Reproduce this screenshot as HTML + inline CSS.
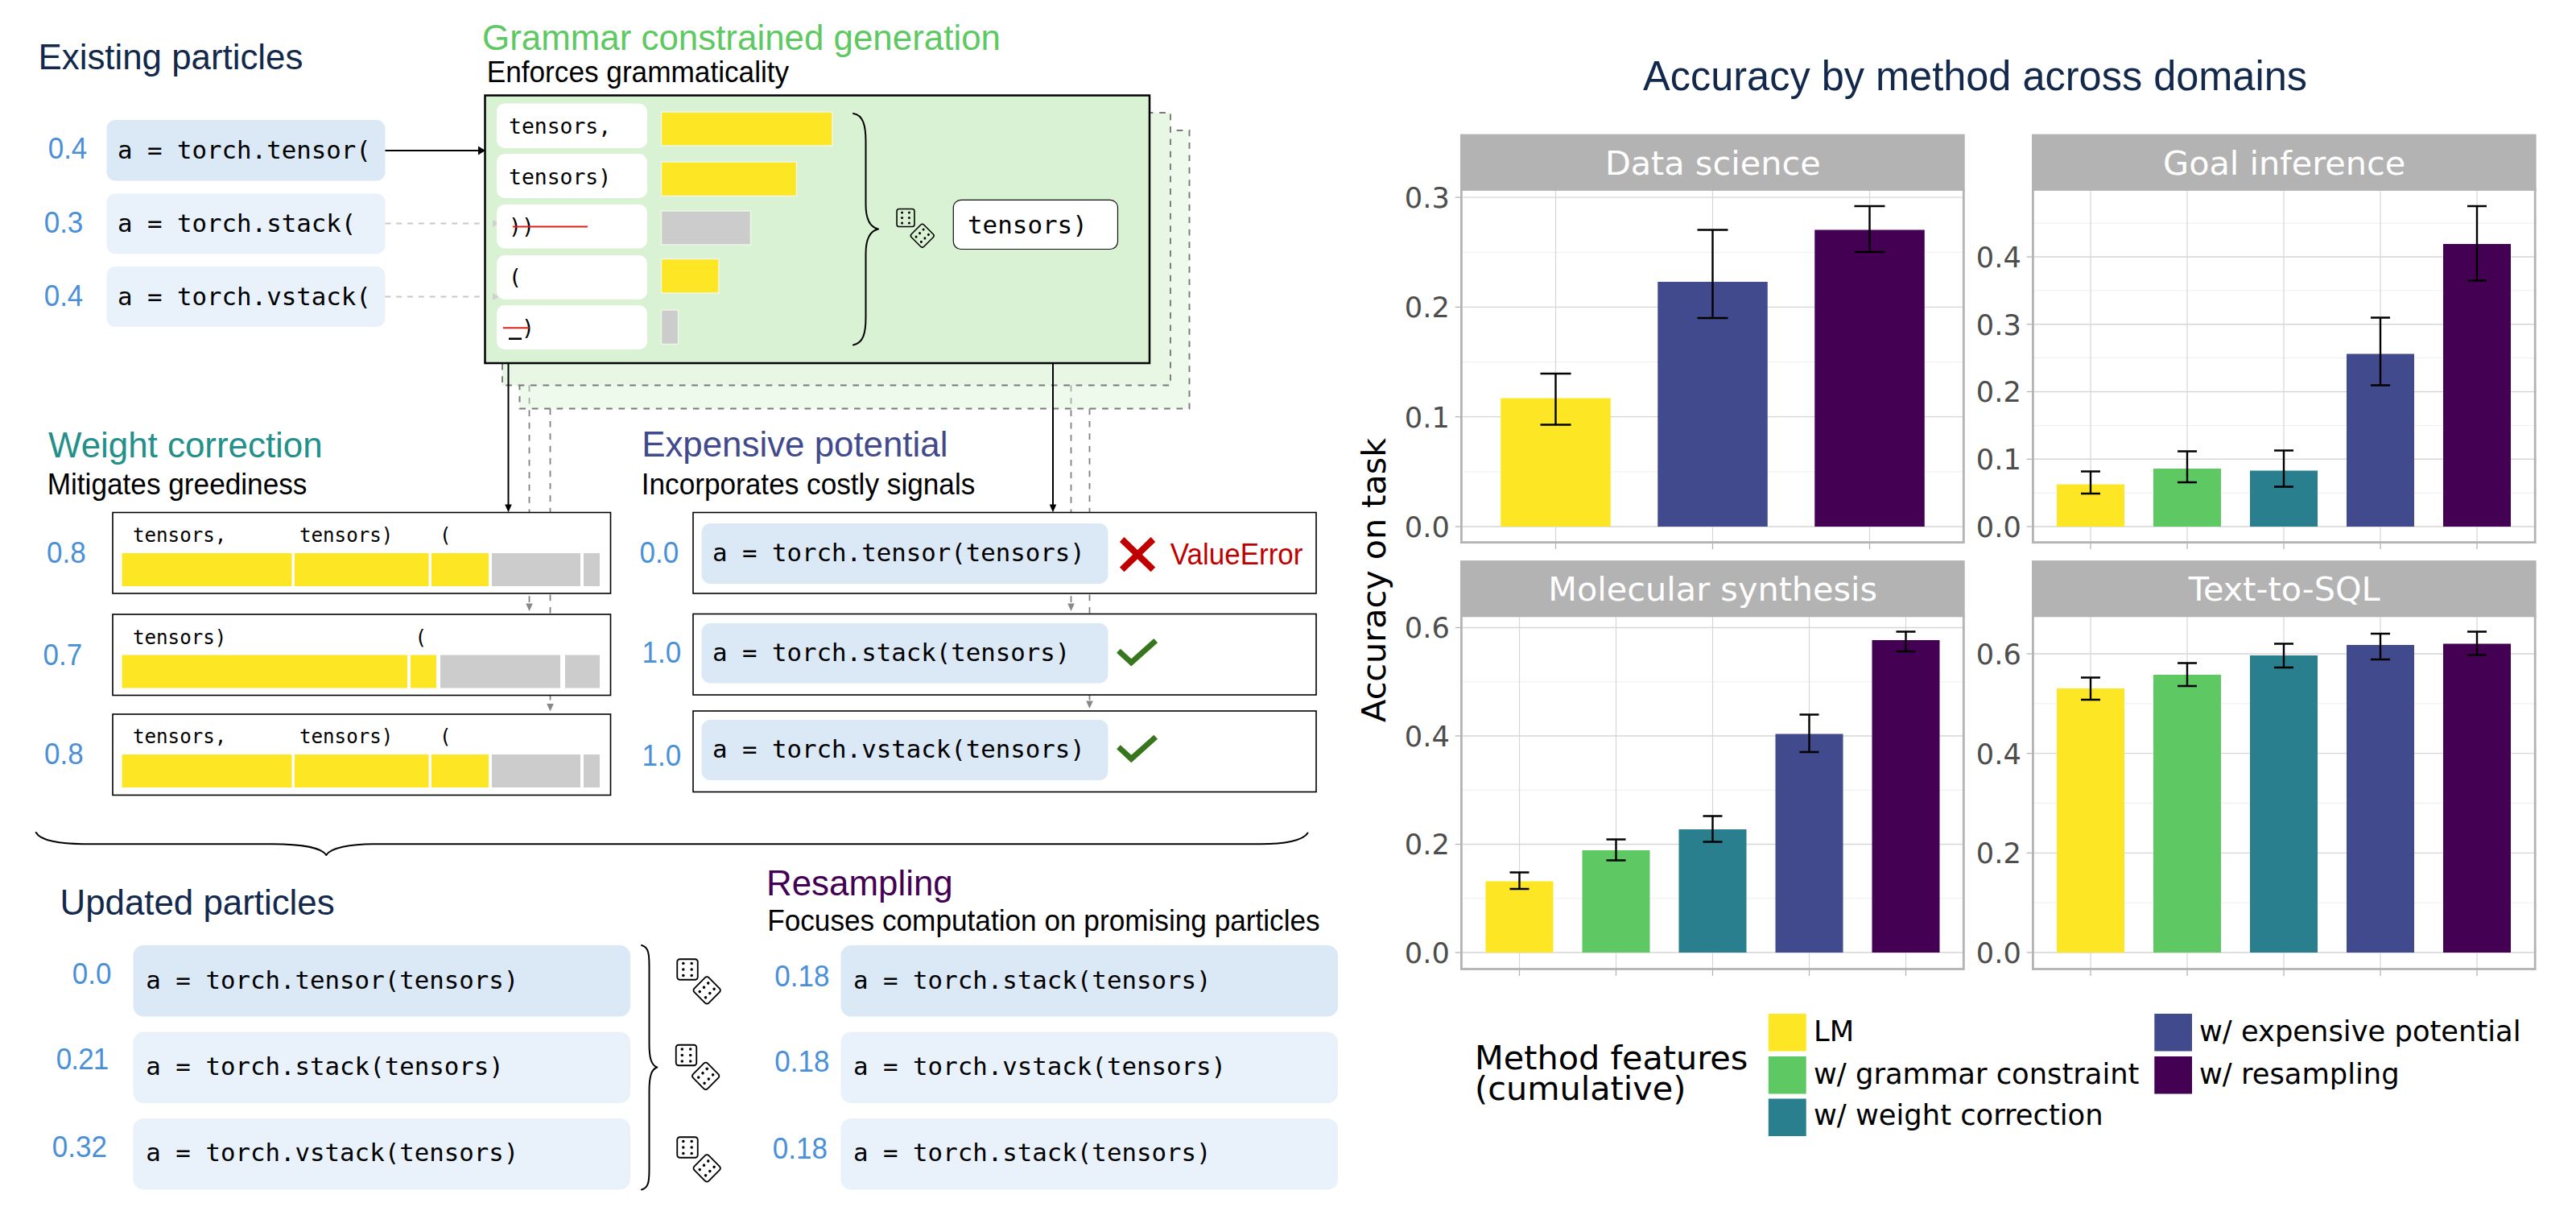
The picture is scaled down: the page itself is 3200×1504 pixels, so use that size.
<!DOCTYPE html>
<html lang="en"><head><meta charset="utf-8"><title>Sequential Monte Carlo for constrained generation</title>
<style>html,body{margin:0;padding:0;background:#fff;}body{width:3200px;height:1504px;overflow:hidden;}svg{display:block;}</style></head><body>
<svg width="3200" height="1504" viewBox="0 0 3200 1504">
<rect width="3200" height="1504" fill="#fff"/>
<defs><g id="die"><rect x="-12.5" y="-12.5" width="25" height="25" rx="3.2" fill="none" stroke="#000" stroke-width="1.8"/><circle cx="-5.1" cy="-7.3" r="1.72" fill="#000"/><circle cx="-5.1" cy="0" r="1.72" fill="#000"/><circle cx="-5.1" cy="7.3" r="1.72" fill="#000"/><circle cx="5.1" cy="-7.3" r="1.72" fill="#000"/><circle cx="5.1" cy="0" r="1.72" fill="#000"/><circle cx="5.1" cy="7.3" r="1.72" fill="#000"/></g><g id="dice"><use href="#die"/><use href="#die" transform="translate(23.7,25.4) rotate(45)"/></g></defs>
<text transform="translate(47.5,86.0) scale(1,1.03)" font-size="43.85" fill="#13294b" font-family="Liberation Sans, Arial, Helvetica, sans-serif" xml:space="preserve">Existing particles</text>
<rect x="132.5" y="149" width="346.0" height="75.5" fill="#dbe8f6" rx="11"/>
<text transform="translate(59.7,197.0) scale(1,1.04)" font-size="35" fill="#4a90d9" font-family="Liberation Sans, Arial, Helvetica, sans-serif" xml:space="preserve">0.4</text>
<text x="146" y="197.15" font-size="30.75" fill="#000" font-family="DejaVu Sans Mono, Liberation Mono, monospace" xml:space="preserve">a = torch.tensor(</text>
<rect x="132.5" y="240.5" width="346.0" height="75.0" fill="#e9f2fb" rx="11"/>
<text transform="translate(54.7,289.0) scale(1,1.04)" font-size="35" fill="#4a90d9" font-family="Liberation Sans, Arial, Helvetica, sans-serif" xml:space="preserve">0.3</text>
<text x="146" y="288.4" font-size="30.75" fill="#000" font-family="DejaVu Sans Mono, Liberation Mono, monospace" xml:space="preserve">a = torch.stack(</text>
<rect x="132.5" y="331" width="346.0" height="75" fill="#e9f2fb" rx="11"/>
<text transform="translate(54.7,380.0) scale(1,1.04)" font-size="35" fill="#4a90d9" font-family="Liberation Sans, Arial, Helvetica, sans-serif" xml:space="preserve">0.4</text>
<text x="146" y="378.9" font-size="30.75" fill="#000" font-family="DejaVu Sans Mono, Liberation Mono, monospace" xml:space="preserve">a = torch.vstack(</text>
<line x1="478.5" y1="187" x2="596" y2="187" stroke="#000" stroke-width="2"/>
<path d="M594,181.5 L603,187 L594,192.5 Z" stroke="none" stroke-width="0" fill="#000"/>
<text transform="translate(599,62.3) scale(1,1.03)" font-size="43.9" fill="#5ec962" font-family="Liberation Sans, Arial, Helvetica, sans-serif" xml:space="preserve">Grammar constrained generation</text>
<text transform="translate(604.7,101.8) scale(1,1.03)" font-size="35.2" fill="#000" font-family="Liberation Sans, Arial, Helvetica, sans-serif" xml:space="preserve">Enforces grammaticality</text>
<rect x="645.5" y="162" width="832.0" height="345.5" fill="#eefaec" stroke="#7a7a7a" stroke-width="1.9" stroke-dasharray="7.7 7.7"/>
<rect x="624" y="140" width="830" height="338.5" fill="#e7f7e4" stroke="#7a7a7a" stroke-width="1.9" stroke-dasharray="7.7 7.7"/>
<line x1="478.5" y1="277.5" x2="614" y2="277.5" stroke="#c8c8c8" stroke-width="1.8" stroke-dasharray="6.9 6.9"/>
<line x1="478.5" y1="368.5" x2="614" y2="368.5" stroke="#c8c8c8" stroke-width="1.8" stroke-dasharray="6.9 6.9"/>
<rect x="602.5" y="118.5" width="825.5" height="332.5" fill="#d9f2d3" stroke="#000" stroke-width="2.5"/>
<path d="M612,273 L620,277.5 L612,282 Z" stroke="none" stroke-width="0" fill="#d0d0d0"/>
<path d="M612,364 L620,368.5 L612,373 Z" stroke="none" stroke-width="0" fill="#d0d0d0"/>
<rect x="617" y="128.5" width="187" height="55.5" fill="#fff" rx="10"/>
<text x="632.0" y="165.9" font-size="26.4" fill="#000" font-family="DejaVu Sans Mono, Liberation Mono, monospace" xml:space="preserve">tensors,</text>
<rect x="617" y="191" width="187" height="55" fill="#fff" rx="10"/>
<text x="632.0" y="228.9" font-size="26.4" fill="#000" font-family="DejaVu Sans Mono, Liberation Mono, monospace" xml:space="preserve">tensors)</text>
<rect x="617" y="254" width="187" height="54.5" fill="#fff" rx="10"/>
<text x="632.0" y="290.4" font-size="26.4" fill="#000" font-family="DejaVu Sans Mono, Liberation Mono, monospace" xml:space="preserve">))</text>
<rect x="617" y="317" width="187" height="55" fill="#fff" rx="10"/>
<text x="632.0" y="353.4" font-size="26.4" fill="#000" font-family="DejaVu Sans Mono, Liberation Mono, monospace" xml:space="preserve">(</text>
<rect x="617" y="379" width="187" height="55" fill="#fff" rx="10"/>
<text x="632.0" y="415.9" font-size="26.4" fill="#000" font-family="DejaVu Sans Mono, Liberation Mono, monospace" xml:space="preserve">_)</text>
<line x1="637" y1="281.5" x2="730" y2="281.5" stroke="#e0201a" stroke-width="2"/>
<line x1="625" y1="407.3" x2="657.5" y2="407.3" stroke="#e0201a" stroke-width="2"/>
<line x1="632" y1="420.6" x2="648" y2="420.6" stroke="#000" stroke-width="2.3"/>
<rect x="821.5" y="139" width="212.5" height="42" fill="#fde725" stroke="#eef7e6" stroke-width="1.5"/>
<rect x="821.5" y="201" width="168.0" height="42.5" fill="#fde725" stroke="#eef7e6" stroke-width="1.5"/>
<rect x="821.5" y="262" width="111.0" height="42" fill="#cccccc" stroke="#eef7e6" stroke-width="1.5"/>
<rect x="821.5" y="321.5" width="71.5" height="42.5" fill="#fde725" stroke="#eef7e6" stroke-width="1.5"/>
<rect x="821.5" y="385" width="21.0" height="42.5" fill="#cccccc" stroke="#eef7e6" stroke-width="1.5"/>
<path d="M1060,141 C1072,143 1075.5,155 1075.5,176 L1075.5,254 C1075.5,272 1080,282 1091,284.5 C1080,287 1075.5,297 1075.5,315 L1075.5,394 C1075.5,415 1072,426 1060,428.5" stroke="#000" stroke-width="2" fill="none" stroke-linejoin="round" stroke-linecap="round"/>
<use href="#dice" transform="translate(1125,270.5) scale(0.875)"/>
<rect x="1184.3" y="248.3" width="204.2" height="61.2" fill="#fff" stroke="#111" stroke-width="1.2" rx="9.5"/>
<text x="1202" y="289.7" font-size="30.9" fill="#000" font-family="DejaVu Sans Mono, Liberation Mono, monospace" xml:space="preserve">tensors)</text>
<line x1="631.5" y1="451.5" x2="631.5" y2="630" stroke="#000" stroke-width="2"/>
<path d="M627.2,626.5 L631.5,636.3 L635.8,626.5 Z" stroke="none" stroke-width="0" fill="#000"/>
<line x1="1308" y1="451.5" x2="1308" y2="630" stroke="#000" stroke-width="2"/>
<path d="M1303.7,626.5 L1308,636.3 L1312.3,626.5 Z" stroke="none" stroke-width="0" fill="#000"/>
<line x1="657.5" y1="478.5" x2="657.5" y2="507.5" stroke="#aaa" stroke-width="1.8" stroke-dasharray="7.7 7.7"/>
<line x1="657.5" y1="507.5" x2="657.5" y2="752" stroke="#808080" stroke-width="1.8" stroke-dasharray="7.7 7.7" stroke-dashoffset="13.6"/>
<line x1="683.5" y1="507.5" x2="683.5" y2="876" stroke="#808080" stroke-width="1.8" stroke-dasharray="7.7 7.7"/>
<line x1="1330.5" y1="478.5" x2="1330.5" y2="507.5" stroke="#aaa" stroke-width="1.8" stroke-dasharray="7.7 7.7"/>
<line x1="1330.5" y1="507.5" x2="1330.5" y2="752" stroke="#808080" stroke-width="1.8" stroke-dasharray="7.7 7.7" stroke-dashoffset="13.6"/>
<line x1="1353.5" y1="507.5" x2="1353.5" y2="873" stroke="#808080" stroke-width="1.8" stroke-dasharray="7.7 7.7"/>
<text transform="translate(60,567.8) scale(1,1.03)" font-size="43.9" fill="#23908a" font-family="Liberation Sans, Arial, Helvetica, sans-serif" xml:space="preserve">Weight correction</text>
<text transform="translate(58.7,614.3) scale(1,1.03)" font-size="35.2" fill="#000" font-family="Liberation Sans, Arial, Helvetica, sans-serif" xml:space="preserve">Mitigates greediness</text>
<rect x="140" y="636.5" width="618.5" height="100.5" fill="#fff" stroke="#000" stroke-width="1.6"/>
<text transform="translate(58,698.5) scale(1,1.04)" font-size="35" fill="#4a90d9" font-family="Liberation Sans, Arial, Helvetica, sans-serif" xml:space="preserve">0.8</text>
<text x="164.9" y="673.2" font-size="24.2" fill="#000" font-family="DejaVu Sans Mono, Liberation Mono, monospace" xml:space="preserve">tensors,</text>
<text x="371.9" y="673.2" font-size="24.2" fill="#000" font-family="DejaVu Sans Mono, Liberation Mono, monospace" xml:space="preserve">tensors)</text>
<text x="545.9" y="673.2" font-size="24.2" fill="#000" font-family="DejaVu Sans Mono, Liberation Mono, monospace" xml:space="preserve">(</text>
<rect x="151.5" y="687" width="211.0" height="41" fill="#fde725"/>
<rect x="366" y="687" width="166.5" height="41" fill="#fde725"/>
<rect x="536" y="687" width="71" height="41" fill="#fde725"/>
<rect x="611" y="687" width="110" height="41" fill="#cccccc"/>
<rect x="725" y="687" width="20" height="41" fill="#cccccc"/>
<rect x="140" y="763" width="618.5" height="100.5" fill="#fff" stroke="#000" stroke-width="1.6"/>
<text transform="translate(53.5,825.5) scale(1,1.04)" font-size="35" fill="#4a90d9" font-family="Liberation Sans, Arial, Helvetica, sans-serif" xml:space="preserve">0.7</text>
<text x="164.9" y="799.7" font-size="24.2" fill="#000" font-family="DejaVu Sans Mono, Liberation Mono, monospace" xml:space="preserve">tensors)</text>
<text x="515.4" y="799.7" font-size="24.2" fill="#000" font-family="DejaVu Sans Mono, Liberation Mono, monospace" xml:space="preserve">(</text>
<rect x="151.5" y="813.5" width="354.5" height="41.0" fill="#fde725"/>
<rect x="510" y="813.5" width="32" height="41.0" fill="#fde725"/>
<rect x="547" y="813.5" width="149" height="41.0" fill="#cccccc"/>
<rect x="702" y="813.5" width="43" height="41.0" fill="#cccccc"/>
<rect x="140" y="887" width="618.5" height="100.5" fill="#fff" stroke="#000" stroke-width="1.6"/>
<text transform="translate(55,948.5) scale(1,1.04)" font-size="35" fill="#4a90d9" font-family="Liberation Sans, Arial, Helvetica, sans-serif" xml:space="preserve">0.8</text>
<text x="164.9" y="923.2" font-size="24.2" fill="#000" font-family="DejaVu Sans Mono, Liberation Mono, monospace" xml:space="preserve">tensors,</text>
<text x="371.9" y="923.2" font-size="24.2" fill="#000" font-family="DejaVu Sans Mono, Liberation Mono, monospace" xml:space="preserve">tensors)</text>
<text x="545.9" y="923.2" font-size="24.2" fill="#000" font-family="DejaVu Sans Mono, Liberation Mono, monospace" xml:space="preserve">(</text>
<rect x="151.5" y="937" width="211.0" height="41" fill="#fde725"/>
<rect x="366" y="937" width="166.5" height="41" fill="#fde725"/>
<rect x="536" y="937" width="71" height="41" fill="#fde725"/>
<rect x="611" y="937" width="110" height="41" fill="#cccccc"/>
<rect x="725" y="937" width="20" height="41" fill="#cccccc"/>
<path d="M653.2,749.5 L657.5,759 L661.8,749.5 Z" stroke="none" stroke-width="0" fill="#888"/>
<path d="M679.2,874 L683.5,883.5 L687.8,874 Z" stroke="none" stroke-width="0" fill="#888"/>
<text transform="translate(797.2,567.3) scale(1,1.03)" font-size="43.85" fill="#414a8c" font-family="Liberation Sans, Arial, Helvetica, sans-serif" xml:space="preserve">Expensive potential</text>
<text transform="translate(796.7,614.3) scale(1,1.03)" font-size="35.2" fill="#000" font-family="Liberation Sans, Arial, Helvetica, sans-serif" xml:space="preserve">Incorporates costly signals</text>
<rect x="861" y="636.5" width="774" height="100.5" fill="#fff" stroke="#000" stroke-width="1.6"/>
<rect x="871.5" y="650" width="505.0" height="75" fill="#dbe8f6" rx="11"/>
<text transform="translate(794.5,698.8) scale(1,1.04)" font-size="35" fill="#4a90d9" font-family="Liberation Sans, Arial, Helvetica, sans-serif" xml:space="preserve">0.0</text>
<text x="885" y="696.5" font-size="30.75" fill="#000" font-family="DejaVu Sans Mono, Liberation Mono, monospace" xml:space="preserve">a = torch.tensor(tensors)</text>
<rect x="861" y="762.5" width="774" height="100.5" fill="#fff" stroke="#000" stroke-width="1.6"/>
<rect x="871.5" y="774" width="505.0" height="74.5" fill="#dbe8f6" rx="11"/>
<text transform="translate(797.5,823.3) scale(1,1.04)" font-size="35" fill="#4a90d9" font-family="Liberation Sans, Arial, Helvetica, sans-serif" xml:space="preserve">1.0</text>
<text x="885" y="820.5" font-size="30.75" fill="#000" font-family="DejaVu Sans Mono, Liberation Mono, monospace" xml:space="preserve">a = torch.stack(tensors)</text>
<rect x="861" y="883" width="774" height="100.5" fill="#fff" stroke="#000" stroke-width="1.6"/>
<rect x="871.5" y="894" width="505.0" height="75" fill="#dbe8f6" rx="11"/>
<text transform="translate(797.5,950.8) scale(1,1.04)" font-size="35" fill="#4a90d9" font-family="Liberation Sans, Arial, Helvetica, sans-serif" xml:space="preserve">1.0</text>
<text x="885" y="940.5" font-size="30.75" fill="#000" font-family="DejaVu Sans Mono, Liberation Mono, monospace" xml:space="preserve">a = torch.vstack(tensors)</text>
<path d="M1326.2,749.5 L1330.5,759 L1334.8,749.5 Z" stroke="none" stroke-width="0" fill="#888"/>
<path d="M1349.2,870.5 L1353.5,880 L1357.8,870.5 Z" stroke="none" stroke-width="0" fill="#888"/>
<path d="M1393.7,670 L1432.4,707.4 M1432.4,670 L1393.7,707.4" stroke="#c00000" stroke-width="8" fill="none" stroke-linejoin="miter"/>
<text transform="translate(1453.8,700.6) scale(1,1.03)" font-size="35" fill="#c00000" font-family="Liberation Sans, Arial, Helvetica, sans-serif" xml:space="preserve">ValueError</text>
<path d="M1389.5,808.2 L1405.3,822.8 L1435.7,795.65" stroke="#38761d" stroke-width="7" fill="none" stroke-linejoin="miter"/>
<path d="M1389.5,927.8000000000001 L1405.3,942.4 L1435.7,915.25" stroke="#38761d" stroke-width="7" fill="none" stroke-linejoin="miter"/>
<path d="M44.8,1034 C50,1044 75,1048.2 103,1048.2 L338,1048.2 C375,1048.2 400,1053 405.3,1062 C410,1053 436,1048.2 463,1048.2 L1566,1048.2 C1595,1048.2 1619,1044 1624.5,1034.5" stroke="#000" stroke-width="2" fill="none" stroke-linejoin="round" stroke-linecap="round"/>
<text transform="translate(74.5,1135.8) scale(1,1.03)" font-size="43.85" fill="#13294b" font-family="Liberation Sans, Arial, Helvetica, sans-serif" xml:space="preserve">Updated particles</text>
<rect x="165.5" y="1174" width="617.5" height="88.5" fill="#dbe8f6" rx="13"/>
<text transform="translate(89.8,1222.0) scale(1,1.04)" font-size="35" fill="#4a90d9" font-family="Liberation Sans, Arial, Helvetica, sans-serif" xml:space="preserve">0.0</text>
<text x="181.3" y="1228" font-size="30.78" fill="#000" font-family="DejaVu Sans Mono, Liberation Mono, monospace" xml:space="preserve">a = torch.tensor(tensors)</text>
<rect x="165.5" y="1281.5" width="617.5" height="88.5" fill="#e9f2fb" rx="13"/>
<text transform="translate(69.8,1328.0) scale(1,1.04)" font-size="35" fill="#4a90d9" font-family="Liberation Sans, Arial, Helvetica, sans-serif" xml:space="preserve" letter-spacing="-0.9">0.21</text>
<text x="181.3" y="1335" font-size="30.78" fill="#000" font-family="DejaVu Sans Mono, Liberation Mono, monospace" xml:space="preserve">a = torch.stack(tensors)</text>
<rect x="165.5" y="1389" width="617.5" height="88.5" fill="#e9f2fb" rx="13"/>
<text transform="translate(64.8,1437.0) scale(1,1.04)" font-size="35" fill="#4a90d9" font-family="Liberation Sans, Arial, Helvetica, sans-serif" xml:space="preserve">0.32</text>
<text x="181.3" y="1442" font-size="30.78" fill="#000" font-family="DejaVu Sans Mono, Liberation Mono, monospace" xml:space="preserve">a = torch.vstack(tensors)</text>
<path d="M797,1174 C806,1176 806.5,1186 806.5,1200 L806.5,1296 C806.5,1314 809,1323 816.3,1325.5 C809,1328 806.5,1337 806.5,1355 L806.5,1452 C806.5,1466 806,1475.5 797,1477.5" stroke="#000" stroke-width="2" fill="none" stroke-linejoin="round" stroke-linecap="round"/>
<use href="#dice" transform="translate(854.0,1204.0) scale(1.02)"/>
<use href="#dice" transform="translate(852.5,1310.5) scale(1.02)"/>
<use href="#dice" transform="translate(854.0,1425.0) scale(1.02)"/>
<text transform="translate(952,1111.8) scale(1,1.03)" font-size="43.9" fill="#440154" font-family="Liberation Sans, Arial, Helvetica, sans-serif" xml:space="preserve">Resampling</text>
<text transform="translate(953.2,1155.8) scale(1,1.03)" font-size="35.2" fill="#000" font-family="Liberation Sans, Arial, Helvetica, sans-serif" xml:space="preserve">Focuses computation on promising particles</text>
<rect x="1044.5" y="1174" width="617.5" height="88.5" fill="#dbe8f6" rx="13"/>
<text transform="translate(962.3,1224.5) scale(1,1.04)" font-size="35" fill="#4a90d9" font-family="Liberation Sans, Arial, Helvetica, sans-serif" xml:space="preserve">0.18</text>
<text x="1060" y="1228" font-size="30.78" fill="#000" font-family="DejaVu Sans Mono, Liberation Mono, monospace" xml:space="preserve">a = torch.stack(tensors)</text>
<rect x="1044.5" y="1281.5" width="617.5" height="88.5" fill="#e9f2fb" rx="13"/>
<text transform="translate(962.3,1330.5) scale(1,1.04)" font-size="35" fill="#4a90d9" font-family="Liberation Sans, Arial, Helvetica, sans-serif" xml:space="preserve">0.18</text>
<text x="1060" y="1335" font-size="30.78" fill="#000" font-family="DejaVu Sans Mono, Liberation Mono, monospace" xml:space="preserve">a = torch.vstack(tensors)</text>
<rect x="1044.5" y="1389" width="617.5" height="88.5" fill="#e9f2fb" rx="13"/>
<text transform="translate(959.8,1438.5) scale(1,1.04)" font-size="35" fill="#4a90d9" font-family="Liberation Sans, Arial, Helvetica, sans-serif" xml:space="preserve">0.18</text>
<text x="1060" y="1442" font-size="30.78" fill="#000" font-family="DejaVu Sans Mono, Liberation Mono, monospace" xml:space="preserve">a = torch.stack(tensors)</text>
<text transform="translate(2453.5,111.5) scale(1,1.03)" font-size="50.5" fill="#13294b" font-family="Liberation Sans, Arial, Helvetica, sans-serif" text-anchor="middle" xml:space="preserve">Accuracy by method across domains</text>
<text transform="translate(1720.8,720.3) rotate(-90)" font-size="41.3" fill="#000" font-family="DejaVu Sans, Liberation Sans, sans-serif" text-anchor="middle">Accuracy on task</text>
<rect x="1814" y="236.7" width="626.7" height="438.3" fill="#fff"/>
<line x1="1814" y1="585.85" x2="2440.7" y2="585.85" stroke="#ececec" stroke-width="0.9"/>
<line x1="1814" y1="449.55" x2="2440.7" y2="449.55" stroke="#ececec" stroke-width="0.9"/>
<line x1="1814" y1="313.25" x2="2440.7" y2="313.25" stroke="#ececec" stroke-width="0.9"/>
<line x1="1814" y1="654" x2="2440.7" y2="654" stroke="#d6d6d6" stroke-width="1.3"/>
<line x1="1807.7" y1="654" x2="1814" y2="654" stroke="#b0b0b0" stroke-width="1.2"/>
<text x="1800.8" y="666.9" font-size="35.2" fill="#4d4d4d" font-family="DejaVu Sans, Liberation Sans, sans-serif" text-anchor="end" xml:space="preserve">0.0</text>
<line x1="1814" y1="517.7" x2="2440.7" y2="517.7" stroke="#d6d6d6" stroke-width="1.3"/>
<line x1="1807.7" y1="517.7" x2="1814" y2="517.7" stroke="#b0b0b0" stroke-width="1.2"/>
<text x="1800.8" y="530.6" font-size="35.2" fill="#4d4d4d" font-family="DejaVu Sans, Liberation Sans, sans-serif" text-anchor="end" xml:space="preserve">0.1</text>
<line x1="1814" y1="381.4" x2="2440.7" y2="381.4" stroke="#d6d6d6" stroke-width="1.3"/>
<line x1="1807.7" y1="381.4" x2="1814" y2="381.4" stroke="#b0b0b0" stroke-width="1.2"/>
<text x="1800.8" y="394.29999999999995" font-size="35.2" fill="#4d4d4d" font-family="DejaVu Sans, Liberation Sans, sans-serif" text-anchor="end" xml:space="preserve">0.2</text>
<line x1="1814" y1="245.10000000000002" x2="2440.7" y2="245.10000000000002" stroke="#d6d6d6" stroke-width="1.3"/>
<line x1="1807.7" y1="245.10000000000002" x2="1814" y2="245.10000000000002" stroke="#b0b0b0" stroke-width="1.2"/>
<text x="1800.8" y="258.0" font-size="35.2" fill="#4d4d4d" font-family="DejaVu Sans, Liberation Sans, sans-serif" text-anchor="end" xml:space="preserve">0.3</text>
<line x1="1932.5" y1="236.7" x2="1932.5" y2="675" stroke="#d6d6d6" stroke-width="1.2"/>
<line x1="1932.5" y1="675" x2="1932.5" y2="682" stroke="#b0b0b0" stroke-width="1.2"/>
<line x1="2127.5" y1="236.7" x2="2127.5" y2="675" stroke="#d6d6d6" stroke-width="1.2"/>
<line x1="2127.5" y1="675" x2="2127.5" y2="682" stroke="#b0b0b0" stroke-width="1.2"/>
<line x1="2322.5" y1="236.7" x2="2322.5" y2="675" stroke="#d6d6d6" stroke-width="1.2"/>
<line x1="2322.5" y1="675" x2="2322.5" y2="682" stroke="#b0b0b0" stroke-width="1.2"/>
<rect x="1864.25" y="494.5" width="136.5" height="159.5" fill="#fde725"/>
<rect x="2059.25" y="350" width="136.5" height="304" fill="#414a8c"/>
<rect x="2254.25" y="285.5" width="136.5" height="368.5" fill="#440154"/>
<path d="M1913.5,464 H1951.5 M1913.5,527.5 H1951.5 M1932.5,464 V527.5" stroke="#000" stroke-width="2.4" fill="none"/>
<path d="M2108.5,285.5 H2146.5 M2108.5,395 H2146.5 M2127.5,285.5 V395" stroke="#000" stroke-width="2.4" fill="none"/>
<path d="M2303.5,256 H2341.5 M2303.5,313 H2341.5 M2322.5,256 V313" stroke="#000" stroke-width="2.4" fill="none"/>
<rect x="1815.4" y="235.29999999999998" width="623.9" height="438.3" fill="none" stroke="#b3b3b3" stroke-width="2.8"/>
<rect x="1814" y="166.6" width="626.7" height="70.1" fill="#b3b3b3"/>
<text x="2127.75" y="216.79999999999998" font-size="41.4" fill="#fff" font-family="DejaVu Sans, Liberation Sans, sans-serif" text-anchor="middle" xml:space="preserve">Data science</text>
<rect x="2524" y="236.7" width="626.6" height="438.3" fill="#fff"/>
<line x1="2524" y1="612.125" x2="3150.6" y2="612.125" stroke="#ececec" stroke-width="0.9"/>
<line x1="2524" y1="528.375" x2="3150.6" y2="528.375" stroke="#ececec" stroke-width="0.9"/>
<line x1="2524" y1="444.625" x2="3150.6" y2="444.625" stroke="#ececec" stroke-width="0.9"/>
<line x1="2524" y1="360.875" x2="3150.6" y2="360.875" stroke="#ececec" stroke-width="0.9"/>
<line x1="2524" y1="277.125" x2="3150.6" y2="277.125" stroke="#ececec" stroke-width="0.9"/>
<line x1="2524" y1="654.0" x2="3150.6" y2="654.0" stroke="#d6d6d6" stroke-width="1.3"/>
<line x1="2517.7" y1="654.0" x2="2524" y2="654.0" stroke="#b0b0b0" stroke-width="1.2"/>
<text x="2510.8" y="666.9" font-size="35.2" fill="#4d4d4d" font-family="DejaVu Sans, Liberation Sans, sans-serif" text-anchor="end" xml:space="preserve">0.0</text>
<line x1="2524" y1="570.25" x2="3150.6" y2="570.25" stroke="#d6d6d6" stroke-width="1.3"/>
<line x1="2517.7" y1="570.25" x2="2524" y2="570.25" stroke="#b0b0b0" stroke-width="1.2"/>
<text x="2510.8" y="583.15" font-size="35.2" fill="#4d4d4d" font-family="DejaVu Sans, Liberation Sans, sans-serif" text-anchor="end" xml:space="preserve">0.1</text>
<line x1="2524" y1="486.5" x2="3150.6" y2="486.5" stroke="#d6d6d6" stroke-width="1.3"/>
<line x1="2517.7" y1="486.5" x2="2524" y2="486.5" stroke="#b0b0b0" stroke-width="1.2"/>
<text x="2510.8" y="499.4" font-size="35.2" fill="#4d4d4d" font-family="DejaVu Sans, Liberation Sans, sans-serif" text-anchor="end" xml:space="preserve">0.2</text>
<line x1="2524" y1="402.75" x2="3150.6" y2="402.75" stroke="#d6d6d6" stroke-width="1.3"/>
<line x1="2517.7" y1="402.75" x2="2524" y2="402.75" stroke="#b0b0b0" stroke-width="1.2"/>
<text x="2510.8" y="415.65" font-size="35.2" fill="#4d4d4d" font-family="DejaVu Sans, Liberation Sans, sans-serif" text-anchor="end" xml:space="preserve">0.3</text>
<line x1="2524" y1="319.0" x2="3150.6" y2="319.0" stroke="#d6d6d6" stroke-width="1.3"/>
<line x1="2517.7" y1="319.0" x2="2524" y2="319.0" stroke="#b0b0b0" stroke-width="1.2"/>
<text x="2510.8" y="331.9" font-size="35.2" fill="#4d4d4d" font-family="DejaVu Sans, Liberation Sans, sans-serif" text-anchor="end" xml:space="preserve">0.4</text>
<line x1="2597" y1="236.7" x2="2597" y2="675" stroke="#d6d6d6" stroke-width="1.2"/>
<line x1="2597" y1="675" x2="2597" y2="682" stroke="#b0b0b0" stroke-width="1.2"/>
<line x1="2717" y1="236.7" x2="2717" y2="675" stroke="#d6d6d6" stroke-width="1.2"/>
<line x1="2717" y1="675" x2="2717" y2="682" stroke="#b0b0b0" stroke-width="1.2"/>
<line x1="2837" y1="236.7" x2="2837" y2="675" stroke="#d6d6d6" stroke-width="1.2"/>
<line x1="2837" y1="675" x2="2837" y2="682" stroke="#b0b0b0" stroke-width="1.2"/>
<line x1="2957" y1="236.7" x2="2957" y2="675" stroke="#d6d6d6" stroke-width="1.2"/>
<line x1="2957" y1="675" x2="2957" y2="682" stroke="#b0b0b0" stroke-width="1.2"/>
<line x1="3077" y1="236.7" x2="3077" y2="675" stroke="#d6d6d6" stroke-width="1.2"/>
<line x1="3077" y1="675" x2="3077" y2="682" stroke="#b0b0b0" stroke-width="1.2"/>
<rect x="2555.0" y="601.5" width="84.0" height="52.5" fill="#fde725"/>
<rect x="2675.0" y="582" width="84.0" height="72" fill="#5ec962"/>
<rect x="2795.0" y="584.5" width="84.0" height="69.5" fill="#2a7f8e"/>
<rect x="2915.0" y="439.5" width="84.0" height="214.5" fill="#414a8c"/>
<rect x="3035.0" y="303" width="84.0" height="351" fill="#440154"/>
<path d="M2585,585.5 H2609 M2585,613 H2609 M2597,585.5 V613" stroke="#000" stroke-width="2.4" fill="none"/>
<path d="M2705,560.5 H2729 M2705,599 H2729 M2717,560.5 V599" stroke="#000" stroke-width="2.4" fill="none"/>
<path d="M2825,559.5 H2849 M2825,604.5 H2849 M2837,559.5 V604.5" stroke="#000" stroke-width="2.4" fill="none"/>
<path d="M2945,394.5 H2969 M2945,478.5 H2969 M2957,394.5 V478.5" stroke="#000" stroke-width="2.4" fill="none"/>
<path d="M3065,256 H3089 M3065,348.5 H3089 M3077,256 V348.5" stroke="#000" stroke-width="2.4" fill="none"/>
<rect x="2525.4" y="235.29999999999998" width="623.8" height="438.3" fill="none" stroke="#b3b3b3" stroke-width="2.8"/>
<rect x="2524" y="166.6" width="626.6" height="70.1" fill="#b3b3b3"/>
<text x="2837.7000000000003" y="216.79999999999998" font-size="41.4" fill="#fff" font-family="DejaVu Sans, Liberation Sans, sans-serif" text-anchor="middle" xml:space="preserve">Goal inference</text>
<rect x="1814" y="766.2" width="626.7" height="438.7" fill="#fff"/>
<line x1="1814" y1="1115.75" x2="2440.7" y2="1115.75" stroke="#ececec" stroke-width="0.9"/>
<line x1="1814" y1="981.25" x2="2440.7" y2="981.25" stroke="#ececec" stroke-width="0.9"/>
<line x1="1814" y1="846.75" x2="2440.7" y2="846.75" stroke="#ececec" stroke-width="0.9"/>
<line x1="1814" y1="1183.0" x2="2440.7" y2="1183.0" stroke="#d6d6d6" stroke-width="1.3"/>
<line x1="1807.7" y1="1183.0" x2="1814" y2="1183.0" stroke="#b0b0b0" stroke-width="1.2"/>
<text x="1800.8" y="1195.9" font-size="35.2" fill="#4d4d4d" font-family="DejaVu Sans, Liberation Sans, sans-serif" text-anchor="end" xml:space="preserve">0.0</text>
<line x1="1814" y1="1048.5" x2="2440.7" y2="1048.5" stroke="#d6d6d6" stroke-width="1.3"/>
<line x1="1807.7" y1="1048.5" x2="1814" y2="1048.5" stroke="#b0b0b0" stroke-width="1.2"/>
<text x="1800.8" y="1061.4" font-size="35.2" fill="#4d4d4d" font-family="DejaVu Sans, Liberation Sans, sans-serif" text-anchor="end" xml:space="preserve">0.2</text>
<line x1="1814" y1="914.0" x2="2440.7" y2="914.0" stroke="#d6d6d6" stroke-width="1.3"/>
<line x1="1807.7" y1="914.0" x2="1814" y2="914.0" stroke="#b0b0b0" stroke-width="1.2"/>
<text x="1800.8" y="926.9" font-size="35.2" fill="#4d4d4d" font-family="DejaVu Sans, Liberation Sans, sans-serif" text-anchor="end" xml:space="preserve">0.4</text>
<line x1="1814" y1="779.5" x2="2440.7" y2="779.5" stroke="#d6d6d6" stroke-width="1.3"/>
<line x1="1807.7" y1="779.5" x2="1814" y2="779.5" stroke="#b0b0b0" stroke-width="1.2"/>
<text x="1800.8" y="792.4" font-size="35.2" fill="#4d4d4d" font-family="DejaVu Sans, Liberation Sans, sans-serif" text-anchor="end" xml:space="preserve">0.6</text>
<line x1="1887.5" y1="766.2" x2="1887.5" y2="1204.9" stroke="#d6d6d6" stroke-width="1.2"/>
<line x1="1887.5" y1="1204.9" x2="1887.5" y2="1211.9" stroke="#b0b0b0" stroke-width="1.2"/>
<line x1="2007.5" y1="766.2" x2="2007.5" y2="1204.9" stroke="#d6d6d6" stroke-width="1.2"/>
<line x1="2007.5" y1="1204.9" x2="2007.5" y2="1211.9" stroke="#b0b0b0" stroke-width="1.2"/>
<line x1="2127.5" y1="766.2" x2="2127.5" y2="1204.9" stroke="#d6d6d6" stroke-width="1.2"/>
<line x1="2127.5" y1="1204.9" x2="2127.5" y2="1211.9" stroke="#b0b0b0" stroke-width="1.2"/>
<line x1="2247.5" y1="766.2" x2="2247.5" y2="1204.9" stroke="#d6d6d6" stroke-width="1.2"/>
<line x1="2247.5" y1="1204.9" x2="2247.5" y2="1211.9" stroke="#b0b0b0" stroke-width="1.2"/>
<line x1="2367.5" y1="766.2" x2="2367.5" y2="1204.9" stroke="#d6d6d6" stroke-width="1.2"/>
<line x1="2367.5" y1="1204.9" x2="2367.5" y2="1211.9" stroke="#b0b0b0" stroke-width="1.2"/>
<rect x="1845.5" y="1094.5" width="84.0" height="88.5" fill="#fde725"/>
<rect x="1965.5" y="1056" width="84.0" height="127" fill="#5ec962"/>
<rect x="2085.5" y="1030" width="84.0" height="153" fill="#2a7f8e"/>
<rect x="2205.5" y="911.5" width="84.0" height="271.5" fill="#414a8c"/>
<rect x="2325.5" y="795" width="84.0" height="388" fill="#440154"/>
<path d="M1875.5,1083.5 H1899.5 M1875.5,1104 H1899.5 M1887.5,1083.5 V1104" stroke="#000" stroke-width="2.4" fill="none"/>
<path d="M1995.5,1042.5 H2019.5 M1995.5,1068.5 H2019.5 M2007.5,1042.5 V1068.5" stroke="#000" stroke-width="2.4" fill="none"/>
<path d="M2115.5,1013.5 H2139.5 M2115.5,1045.5 H2139.5 M2127.5,1013.5 V1045.5" stroke="#000" stroke-width="2.4" fill="none"/>
<path d="M2235.5,887.5 H2259.5 M2235.5,934 H2259.5 M2247.5,887.5 V934" stroke="#000" stroke-width="2.4" fill="none"/>
<path d="M2355.5,784.5 H2379.5 M2355.5,809 H2379.5 M2367.5,784.5 V809" stroke="#000" stroke-width="2.4" fill="none"/>
<rect x="1815.4" y="764.8000000000001" width="623.9" height="438.7" fill="none" stroke="#b3b3b3" stroke-width="2.8"/>
<rect x="1814" y="696.1" width="626.7" height="70.1" fill="#b3b3b3"/>
<text x="2127.75" y="746.3000000000001" font-size="41.4" fill="#fff" font-family="DejaVu Sans, Liberation Sans, sans-serif" text-anchor="middle" xml:space="preserve">Molecular synthesis</text>
<rect x="2524" y="766.2" width="626.6" height="438.7" fill="#fff"/>
<line x1="2524" y1="1121.17" x2="3150.6" y2="1121.17" stroke="#ececec" stroke-width="0.9"/>
<line x1="2524" y1="997.51" x2="3150.6" y2="997.51" stroke="#ececec" stroke-width="0.9"/>
<line x1="2524" y1="873.85" x2="3150.6" y2="873.85" stroke="#ececec" stroke-width="0.9"/>
<line x1="2524" y1="1183.0" x2="3150.6" y2="1183.0" stroke="#d6d6d6" stroke-width="1.3"/>
<line x1="2517.7" y1="1183.0" x2="2524" y2="1183.0" stroke="#b0b0b0" stroke-width="1.2"/>
<text x="2510.8" y="1195.9" font-size="35.2" fill="#4d4d4d" font-family="DejaVu Sans, Liberation Sans, sans-serif" text-anchor="end" xml:space="preserve">0.0</text>
<line x1="2524" y1="1059.34" x2="3150.6" y2="1059.34" stroke="#d6d6d6" stroke-width="1.3"/>
<line x1="2517.7" y1="1059.34" x2="2524" y2="1059.34" stroke="#b0b0b0" stroke-width="1.2"/>
<text x="2510.8" y="1072.24" font-size="35.2" fill="#4d4d4d" font-family="DejaVu Sans, Liberation Sans, sans-serif" text-anchor="end" xml:space="preserve">0.2</text>
<line x1="2524" y1="935.6800000000001" x2="3150.6" y2="935.6800000000001" stroke="#d6d6d6" stroke-width="1.3"/>
<line x1="2517.7" y1="935.6800000000001" x2="2524" y2="935.6800000000001" stroke="#b0b0b0" stroke-width="1.2"/>
<text x="2510.8" y="948.58" font-size="35.2" fill="#4d4d4d" font-family="DejaVu Sans, Liberation Sans, sans-serif" text-anchor="end" xml:space="preserve">0.4</text>
<line x1="2524" y1="812.02" x2="3150.6" y2="812.02" stroke="#d6d6d6" stroke-width="1.3"/>
<line x1="2517.7" y1="812.02" x2="2524" y2="812.02" stroke="#b0b0b0" stroke-width="1.2"/>
<text x="2510.8" y="824.92" font-size="35.2" fill="#4d4d4d" font-family="DejaVu Sans, Liberation Sans, sans-serif" text-anchor="end" xml:space="preserve">0.6</text>
<line x1="2597" y1="766.2" x2="2597" y2="1204.9" stroke="#d6d6d6" stroke-width="1.2"/>
<line x1="2597" y1="1204.9" x2="2597" y2="1211.9" stroke="#b0b0b0" stroke-width="1.2"/>
<line x1="2717" y1="766.2" x2="2717" y2="1204.9" stroke="#d6d6d6" stroke-width="1.2"/>
<line x1="2717" y1="1204.9" x2="2717" y2="1211.9" stroke="#b0b0b0" stroke-width="1.2"/>
<line x1="2837" y1="766.2" x2="2837" y2="1204.9" stroke="#d6d6d6" stroke-width="1.2"/>
<line x1="2837" y1="1204.9" x2="2837" y2="1211.9" stroke="#b0b0b0" stroke-width="1.2"/>
<line x1="2957" y1="766.2" x2="2957" y2="1204.9" stroke="#d6d6d6" stroke-width="1.2"/>
<line x1="2957" y1="1204.9" x2="2957" y2="1211.9" stroke="#b0b0b0" stroke-width="1.2"/>
<line x1="3077" y1="766.2" x2="3077" y2="1204.9" stroke="#d6d6d6" stroke-width="1.2"/>
<line x1="3077" y1="1204.9" x2="3077" y2="1211.9" stroke="#b0b0b0" stroke-width="1.2"/>
<rect x="2555.0" y="855" width="84.0" height="328" fill="#fde725"/>
<rect x="2675.0" y="838" width="84.0" height="345" fill="#5ec962"/>
<rect x="2795.0" y="814" width="84.0" height="369" fill="#2a7f8e"/>
<rect x="2915.0" y="801" width="84.0" height="382" fill="#414a8c"/>
<rect x="3035.0" y="799.5" width="84.0" height="383.5" fill="#440154"/>
<path d="M2585,841.5 H2609 M2585,869 H2609 M2597,841.5 V869" stroke="#000" stroke-width="2.4" fill="none"/>
<path d="M2705,823.5 H2729 M2705,852 H2729 M2717,823.5 V852" stroke="#000" stroke-width="2.4" fill="none"/>
<path d="M2825,799.5 H2849 M2825,829 H2849 M2837,799.5 V829" stroke="#000" stroke-width="2.4" fill="none"/>
<path d="M2945,787 H2969 M2945,819 H2969 M2957,787 V819" stroke="#000" stroke-width="2.4" fill="none"/>
<path d="M3065,784.5 H3089 M3065,813.5 H3089 M3077,784.5 V813.5" stroke="#000" stroke-width="2.4" fill="none"/>
<rect x="2525.4" y="764.8000000000001" width="623.8" height="438.7" fill="none" stroke="#b3b3b3" stroke-width="2.8"/>
<rect x="2524" y="696.1" width="626.6" height="70.1" fill="#b3b3b3"/>
<text x="2837.7000000000003" y="746.3000000000001" font-size="41.4" fill="#fff" font-family="DejaVu Sans, Liberation Sans, sans-serif" text-anchor="middle" xml:space="preserve">Text-to-SQL</text>
<text x="1832" y="1328" font-size="41.4" fill="#000" font-family="DejaVu Sans, Liberation Sans, sans-serif" xml:space="preserve">Method features</text>
<text x="1832" y="1365.5" font-size="41.4" fill="#000" font-family="DejaVu Sans, Liberation Sans, sans-serif" xml:space="preserve">(cumulative)</text>
<rect x="2196.8" y="1259" width="46.9" height="46.5" fill="#fde725"/>
<text x="2253" y="1292.5" font-size="35.3" fill="#000" font-family="DejaVu Sans, Liberation Sans, sans-serif" xml:space="preserve">LM</text>
<rect x="2196.8" y="1312" width="46.9" height="46.5" fill="#5ec962"/>
<text x="2253" y="1345.5" font-size="35.3" fill="#000" font-family="DejaVu Sans, Liberation Sans, sans-serif" xml:space="preserve">w/ grammar constraint</text>
<rect x="2196.8" y="1364.5" width="46.9" height="46.5" fill="#2a7f8e"/>
<text x="2253" y="1397" font-size="35.3" fill="#000" font-family="DejaVu Sans, Liberation Sans, sans-serif" xml:space="preserve">w/ weight correction</text>
<rect x="2676.3" y="1259" width="46.7" height="46.5" fill="#414a8c"/>
<text x="2732" y="1292.5" font-size="35.3" fill="#000" font-family="DejaVu Sans, Liberation Sans, sans-serif" xml:space="preserve">w/ expensive potential</text>
<rect x="2676.3" y="1312" width="46.7" height="46.5" fill="#440154"/>
<text x="2732" y="1345.5" font-size="35.3" fill="#000" font-family="DejaVu Sans, Liberation Sans, sans-serif" xml:space="preserve">w/ resampling</text>
</svg></body></html>
